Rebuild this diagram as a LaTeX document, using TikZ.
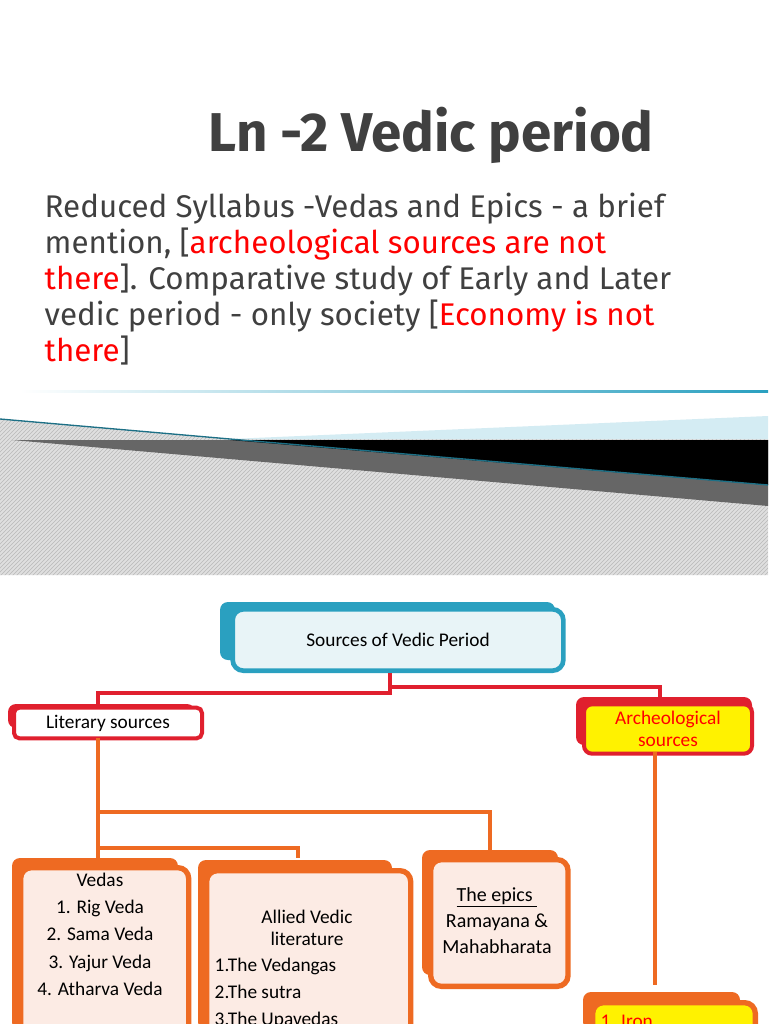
\documentclass[tikz,border=0pt]{standalone}
\usepackage{fontspec}
\setmainfont{Carlito}
\newfontfamily\titlefont{Fira Sans}
\usetikzlibrary{patterns}
\definecolor{tblue}{HTML}{2AA0C0}
\definecolor{lblue}{HTML}{E8F4F7}
\definecolor{tred}{HTML}{E0202E}
\definecolor{torange}{HTML}{EE6A22}
\definecolor{pinkf}{HTML}{FCEBE4}
\definecolor{yel}{HTML}{FFF200}
\definecolor{dgrey}{HTML}{404040}
\tikzset{
 shad/.style={rounded corners=6pt,fill=#1},
 mainbox/.style={rounded corners=8pt,line width=3.5pt},
 conn/.style={line width=3pt},
 btxt/.style={font=\fontsize{14.5}{17}\selectfont,align=center}
}
\begin{document}
\begin{tikzpicture}[x=0.75pt,y=-0.75pt]
\useasboundingbox (0,0) rectangle (768,1024);
\fill[white] (0,0) rectangle (768,1024);
% title and text
\node[anchor=west,text=dgrey,font=\titlefont\fontsize{41}{46}\selectfont\bfseries] (title) at (204,135) {Ln -2 Vedic period};
\node[anchor=north west,align=left,text=dgrey,font=\titlefont\fontsize{23.5}{27}\selectfont] (body) at (40,188)
{Reduced Syllabus -Vedas and Epics - a brief\\ mention, [\textcolor{red}{archeological sources are not}\\ \textcolor{red}{there}]. Comparative study of Early and Later\\ vedic period - only society [\textcolor{red}{Economy is not}\\ \textcolor{red}{there}]};
% band
\shade[left color=white,right color=tblue] (20,390) rectangle (768,392);
\fill[gray!25] (0,419) -- (230,439) -- (768,439) -- (768,575) -- (0,575) -- cycle;
\fill[pattern=north east lines,pattern color=gray!55] (0,419) -- (230,439) -- (768,439) -- (768,575) -- (0,575) -- cycle;
\fill[gray!80!black] (12,440) -- (768,440) -- (768,506) -- cycle;
\fill[black] (230,440) -- (768,440) -- (768,485) -- cycle;
\fill[tblue!20] (230,439) -- (768,416) -- (768,439) -- cycle;
\draw[tblue!70!black,line width=1pt] (0,419) -- (230,439) -- (768,485);
% sources box
\fill[shad=tblue] (220,602) rectangle (555,660);
\node[draw=tblue,fill=lblue,mainbox,minimum width=248pt,minimum height=46pt,btxt] (src) at (398,640) {Sources of Vedic Period};
% literary
\fill[shad=tred] (8,704) rectangle (195,728);
\node[draw=tred,fill=white,rounded corners=4pt,line width=3pt,minimum width=141pt,minimum height=23pt,btxt] (lit) at (108,723) {Literary sources};
% archeological
\fill[shad=tred] (576,697) rectangle (752,745);
\node[draw=tred,fill=yel,rounded corners=6pt,line width=3pt,minimum width=126pt,minimum height=37pt,btxt,text=red] (arc) at (668,729) {Archeological\\sources};
% red connectors
\coordinate (j1) at (390,690);
\draw[tred,conn] (src.south -| j1) -- (390,693) -- (98,693) -- (98,705);
\draw[tred,conn] (390,687) -- (660,687) -- (660,702);
% vedas etc
\fill[shad=torange] (12,858) rectangle (178,1030);
\node[draw=torange,fill=pinkf,mainbox,line width=4pt,minimum width=126pt,minimum height=140pt,anchor=north west,btxt] (vedas) at (18,865) {};
\node[btxt,anchor=north,font=\fontsize{14.5}{20.5}\selectfont] (vt) at (100,868) {Vedas\\1. Rig Veda\\2. Sama Veda\\3. Yajur Veda\\4. Atharva Veda};
\fill[shad=torange] (198,860) rectangle (392,1030);
\node[draw=torange,fill=pinkf,mainbox,line width=4pt,minimum width=153pt,minimum height=140pt,anchor=north west] (allied) at (204,868) {};
\node[btxt,anchor=north] (at1) at (307,905) {Allied Vedic\\literature};
\node[btxt,anchor=north west,align=left,font=\fontsize{14.5}{20.5}\selectfont] (at2) at (210,953) {1.The Vedangas\\2.The sutra\\3.The Upavedas};
\fill[shad=torange] (422,850) rectangle (558,975);
\node[draw=torange,fill=pinkf,mainbox,line width=4pt,minimum width=103pt,minimum height=95pt,anchor=north west] (epics) at (428,857) {};
\node[btxt,anchor=north,font=\fontsize{15}{19.5}\selectfont] (et) at (497,883) {\underline{The epics\ }\\Ramayana \&\\Mahabharata};
% iron
\fill[shad=torange] (583,992) rectangle (740,1030);
\node[draw=torange,fill=yel,mainbox,line width=4pt,minimum width=122pt,minimum height=40pt,anchor=north west] (iron) at (590,1000) {};
\node[btxt,text=red,anchor=north west] (it) at (596,1010) {1. Iron};
% orange connectors
\coordinate (lb) at (98,738);
\draw[torange,conn] (lb) -- (98,812) -- (490,812) -- (490,852);
\draw[torange,conn] (98,812) -- (98,848) -- (298,848) -- (298,858);
\draw[torange,conn] (98,848) -- (98,858);
\draw[torange,conn] (655,752) -- (655,985);
\end{tikzpicture}
\end{document}
